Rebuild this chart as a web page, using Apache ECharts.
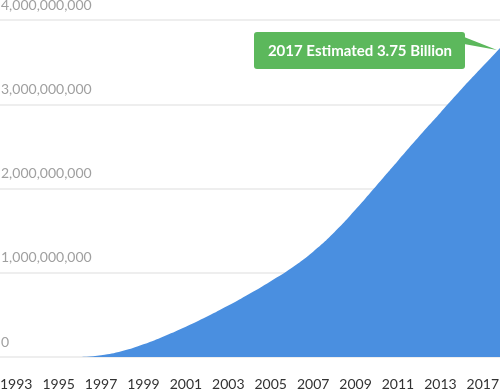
<!DOCTYPE html>
<html>
<head>
<meta charset="utf-8">
<script src="https://cdn.jsdelivr.net/npm/echarts@6/dist/echarts.min.js"></script>
<style>
html,body{margin:0;padding:0;background:#fff;}
#c{width:500px;height:390px;}
</style>
</head>
<body>
<div id="c"></div>
<script>
// Tick labels shown on the x axis
var xLabels = ['1993','1995','1997','1999','2001','2003','2005','2007','2009','2011','2013','2017'];
// Area series: years and values (users)
var years = [1996,1997,1998,1999,2000,2001,2002,2003,2004,2005,2006,2007,2008,2009,2010,2011,2012,2013,2014,2015,2016];
var users = [0,0.02e9,0.07e9,0.15e9,0.25e9,0.36e9,0.48e9,0.61e9,0.75e9,0.90e9,1.06e9,1.25e9,1.48e9,1.75e9,2.04e9,2.33e9,2.62e9,2.90e9,3.18e9,3.45e9,3.72e9];
var calloutText = '2017 Estimated 3.75 Billion';

var chart = echarts.init(document.getElementById('c'), null, {renderer:'canvas'});
var FONT = 'Lato';
chart.setOption({
  animation:false,
  grid:{left:-5, width:509, top:20, bottom:33, containLabel:false, outerBoundsMode:'none'},
  xAxis:[{
    type:'category', data:xLabels, boundaryGap:true,
    axisLine:{show:false}, axisTick:{show:false}, splitLine:{show:false},
    axisLabel:{color:'#333', fontFamily:FONT, fontSize:14, margin:20, interval:0}
  },{
    type:'value', min:1992, max:2016, show:false
  }],
  yAxis:{
    type:'value', min:0, max:4e9, interval:1e9,
    axisLine:{show:false}, axisTick:{show:false},
    splitLine:{lineStyle:{color:'#e8e8e8', width:1.5}},
    axisLabel:{inside:true, margin:6, color:'#a0a0a0', fontFamily:FONT, fontSize:14,
      verticalAlign:'bottom', padding:[0,0,8,0],
      formatter:function(v){return v.toLocaleString('en-US');}}
  },
  series:[{
    type:'line', xAxisIndex:1, smooth:true, symbol:'none',
    data: years.map(function(y,i){return [y, users[i]];}),
    lineStyle:{width:0, color:'#4a8fe0'},
    areaStyle:{color:'#4a8fe0', opacity:1}
  }],
  graphic:[
    {type:'polygon', z:100, shape:{points:[[454,33],[497,50],[464,44]]}, style:{fill:'#5cb85c'}},
    {type:'rect', z:100, shape:{x:254,y:32,width:211,height:37,r:3}, style:{fill:'#5cb85c'}},
    {type:'text', z:101, x:360, y:51, style:{text:calloutText, align:'center', verticalAlign:'middle',
      fill:'#fff', font:'bold 15px Lato'}}
  ]
});
</script>
</body>
</html>
